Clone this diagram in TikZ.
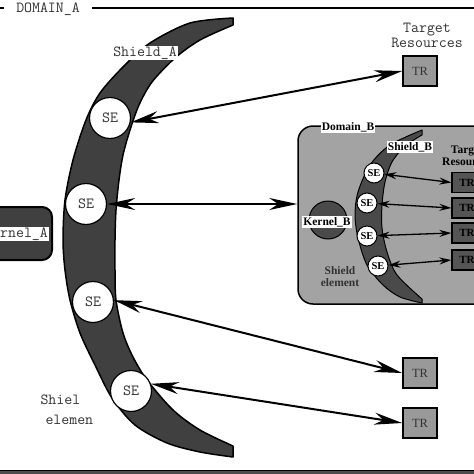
\documentclass[tikz,border=0pt]{standalone}
\usepackage{fontspec}
\setmainfont{Liberation Serif}
\usetikzlibrary{arrows.meta}
\definecolor{shieldA}{HTML}{404040}
\definecolor{shieldB}{HTML}{4A4A4A}
\definecolor{domBfill}{HTML}{A3A3A3}
\definecolor{trAfill}{HTML}{999999}
\definecolor{trBfill}{HTML}{555555}
\definecolor{txtgray}{HTML}{333333}
\tikzset{
  mono/.style={font=\ttfamily\fontsize{15.4}{15}\selectfont, text=txtgray},
  bsf/.style={font=\bfseries\fontsize{11.5}{12}\selectfont},
  labelbox/.style={fill=white, inner sep=1pt},
  seA/.style={circle, draw, line width=1.2pt, fill=white, minimum size=41pt, inner sep=0pt, font=\ttfamily\fontsize{15.5}{15}\selectfont, text=txtgray},
  seB/.style={circle, draw, line width=1pt, fill=white, minimum size=20pt, inner sep=0pt, font=\bfseries\fontsize{10.5}{10}\selectfont},
  trA/.style={rectangle, draw, line width=1.5pt, fill=trAfill, minimum width=34pt, minimum height=30pt, inner sep=0pt, font=\fontsize{12.5}{12.5}\selectfont, text=txtgray},
  trB/.style={rectangle, draw, line width=1.2pt, fill=trBfill, minimum width=30pt, minimum height=20pt, inner sep=0pt, font=\bfseries\fontsize{11}{11}\selectfont, text=black},
  bigarr/.style={line width=2pt, {Stealth[length=28pt,width=12pt,inset=9pt]}-{Stealth[length=28pt,width=12pt,inset=9pt]}},
  smallarr/.style={line width=1.3pt, {Stealth[length=12pt,width=7pt,inset=4pt]}-{Stealth[length=12pt,width=7pt,inset=4pt]}}
}
\begin{document}
\begin{tikzpicture}[x=1pt,y=-1pt]
\useasboundingbox (0,0) rectangle (474,474);
\fill[white] (0,0) rectangle (474,474);

% DOMAIN_A frame
\draw[line width=2pt] (0,8) -- (4,8);
\draw[line width=2pt] (92,8) -- (474,8);
\node[mono] (domA) at (48,9) {DOMAIN\_A};
\fill[gray!60!black] (0,470) rectangle (474,474);
\draw[line width=1pt] (0,470.5) -- (474,470.5);

% Shield A crescent
\draw[line width=1.5pt, fill=shieldA, line join=round]
  plot[smooth] coordinates {(233,18) (190,23) (150,43) (123,67) (100,93) (86,120) (73,160) (65,200) (63,240) (65,270) (70,300) (80,333) (95,365) (112,398) (135,425) (167,443) (200,452) (233,457)}
  -- plot[smooth] coordinates {(233,446) (200,430) (173,410) (147,380) (133,357) (123,333) (116,300) (115,270) (115,240) (116,210) (119,180) (123,155) (130,130) (139,105) (152,82) (175,58) (200,40) (233,25)}
  -- cycle;
\node[mono, labelbox] (shA) at (145,53) {Shield\_A};

% Kernel A
\node[rectangle, rounded corners=10pt, draw, line width=2pt, fill=shieldA, minimum width=82pt, minimum height=53pt] (kerA) at (11,233.5) {};
\node[mono, labelbox, anchor=east] (kerAlbl) at (49,234) {Kernel\_A};

% SE nodes of shield A
\node[seA] (se1) at (110,118) {SE};
\node[seA] (se2) at (86,204) {SE};
\node[seA] (se3) at (93,302) {SE};
\node[seA] (se4) at (131,391) {SE};

% Target resources A
\node[mono, align=center] (tgtA) at (427,35) {Target\\Resources};
\node[trA] (tra1) at (420,71) {TR};
\node[trA] (tra2) at (420,373) {TR};
\node[trA] (tra3) at (420,423) {TR};

% Shield element label A
\node[mono, anchor=west] (sheA1) at (37,400) {Shiel};
\node[mono, anchor=west] (sheA2) at (42,420) {elemen};

% Domain B
\node[rectangle, rounded corners=15pt, draw, line width=1.5pt, fill=domBfill, minimum width=192pt, minimum height=178pt] (domB) at (394,215) {};
\node[bsf, labelbox] (domBlbl) at (348,127) {Domain\_B};

% Shield B crescent
\draw[line width=1pt, fill=shieldB, line join=round]
  plot[smooth] coordinates {(422,130) (390,145) (370,165) (358,192) (355,215) (358,238) (367,265) (383,285) (400,297) (422,303)}
  -- plot[smooth] coordinates {(422,299) (397,275) (387,252) (382,228) (382,205) (385,182) (392,162) (405,146) (422,135)}
  -- cycle;
\node[bsf, labelbox] (shB) at (410,147) {Shield\_B};

% Kernel B
\node[circle, draw, line width=1pt, fill=shieldB, minimum size=38pt, inner sep=0pt] (kerB) at (328,220) {};
\node[bsf, labelbox] (kerBlbl) at (327,222) {Kernel\_B};
\node[bsf, align=center, text=txtgray] (sheB) at (340,277) {Shield\\element};

% SE nodes of shield B
\node[seB] (seb1) at (374,173) {SE};
\node[seB] (seb2) at (367,203) {SE};
\node[seB] (seb3) at (367,236) {SE};
\node[seB] (seb4) at (378,266) {SE};

% Target resources B
\node[bsf, align=center] (tgtB) at (467,156) {Target\\Resources};
\node[trB] (trb1) at (467,182.5) {TR};
\node[trB] (trb2) at (467,208) {TR};
\node[trB] (trb3) at (467,233) {TR};
\node[trB] (trb4) at (467,260) {TR};

% connectors
\draw[bigarr] (se1.-12) -- (tra1.west);
\draw[bigarr, line width=1.5pt] (se2.east) -- (se2.east -| domB.west);
\draw[bigarr] (se3.5) -- (tra2.west);
\draw[bigarr] (se4.20) -- (tra3.west);

\draw[smallarr] (seb1) -- (trb1.west);
\draw[smallarr] (seb2) -- (trb2.west);
\draw[smallarr] (seb3) -- (trb3.west);
\draw[smallarr] (seb4) -- (trb4.west);
\end{tikzpicture}
\end{document}
